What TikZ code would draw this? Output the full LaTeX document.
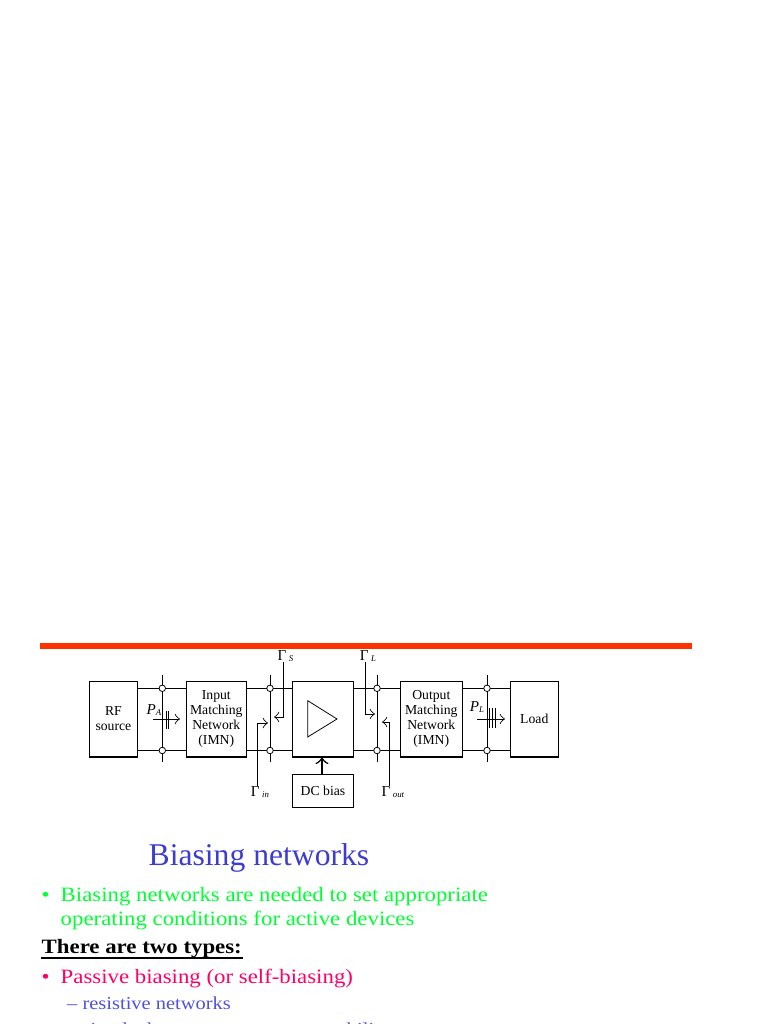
\documentclass[tikz,border=0pt]{standalone}
\usepackage{fontspec}
\setmainfont{Liberation Serif}
\newfontfamily\widefont[FakeStretch=1.12]{Liberation Serif}
\usetikzlibrary{arrows,positioning}
\definecolor{barred}{RGB}{255,51,0}
\definecolor{titleblue}{RGB}{60,60,210}
\definecolor{bulletgreen}{RGB}{0,255,51}
\definecolor{passivered}{RGB}{255,0,102}
\definecolor{subblue}{RGB}{80,80,220}
\tikzset{
  block/.style={draw,line width=0.3pt,fill=white,inner sep=0pt,align=center,font=\fontsize{3.9pt}{4.3pt}\selectfont},
  port/.style={draw,circle,fill=white,line width=0.22pt,minimum size=0.065cm,inner sep=0pt},
  wire/.style={line width=0.22pt},
  flow/.style={line width=0.22pt,->,>=to},
  lab/.style={inner sep=0pt,font=\fontsize{4.3pt}{4.6pt}\selectfont},
  slide/.style={anchor=base west,inner sep=0pt,font=\widefont\fontsize{5.8pt}{6pt}\selectfont}
}
\newcommand{\sublab}[2]{\textit{#1}\raisebox{-0.35pt}{\fontsize{2.5pt}{3pt}\selectfont\textit{#2}}}
\newcommand{\Gam}[1]{Γ\,\raisebox{-0.35pt}{\fontsize{2.5pt}{3pt}\selectfont\textit{#1}}}
\begin{document}
\begin{tikzpicture}
  \path[use as bounding box] (0,0) rectangle (7.68,10.24);
  \clip (0,0) rectangle (7.68,10.24);
  \fill[barred] (0.40,3.745) rectangle (6.92,3.81); %Red bar

  %Blocks
  \node[block,minimum width=0.485cm,minimum height=0.755cm] (rf) at (1.134,3.05) {RF\\source};
  \node[block,minimum width=0.595cm,minimum height=0.755cm] (imn) at (2.163,3.05) {Input\\Matching\\Network\\(IMN)};
  \node[block,minimum width=0.605cm,minimum height=0.755cm] (amp) at (3.23,3.05) {};
  \node[block,minimum width=0.615cm,minimum height=0.755cm] (omn) at (4.313,3.05) {Output\\Matching\\Network\\(IMN)};
  \node[block,minimum width=0.475cm,minimum height=0.755cm] (load) at (5.343,3.05) {Load};
  \node[block,minimum width=0.605cm,minimum height=0.33cm] (dc) at (3.23,2.33) {DC bias};

  %Shadow edge of the blocks
  \foreach \a in {rf,imn,amp,omn,load}{
    \draw[line width=0.4pt] (\a.south west) -- (\a.south east);
  }

  %Amplifier triangle
  \draw[line width=0.22pt] (3.077,3.233) -- (3.37,3.05) -- (3.077,2.87) -- cycle;

  %Wires between blocks
  \foreach \a/\b in {rf/imn,imn/amp,amp/omn,omn/load}{
    \draw[wire] (\a.east |- 0,3.357) -- (\b.west |- 0,3.357);
    \draw[wire] (\a.east |- 0,2.735) -- (\b.west |- 0,2.735);
  }

  %Reference planes
  \foreach \name/\x in {a/1.623,b/2.70,c/3.77,d/4.87}{
    \draw[wire] (\x,3.49) -- (\x,2.62);
    \node[port] (top\name) at (\x,3.357) {};
    \node[port] (bot\name) at (\x,2.735) {};
  }

  %Power arrows
  \coordinate (pas) at (1.53,3.05);
  \coordinate (pae) at (1.80,3.05);
  \draw[flow] (pas) -- (pae);
  \draw[wire] (1.66,3.13) -- (1.66,2.95);
  \draw[wire] (1.685,3.13) -- (1.685,2.95);
  \node[lab] (pa) at (1.54,3.14) {\sublab{P}{A}};
  \coordinate (pls) at (4.77,3.05);
  \coordinate (ple) at (5.05,3.05);
  \draw[flow] (pls) -- (ple);
  \draw[wire] (4.89,3.16) -- (4.89,2.96);
  \draw[wire] (4.92,3.16) -- (4.92,2.96);
  \draw[wire] (4.95,3.16) -- (4.95,2.96);
  \node[lab] (pl) at (4.77,3.17) {\sublab{P}{L}};

  %Reflection coefficients
  \node[lab] (gs) at (2.855,3.68) {\Gam{S}};
  \node[lab] (gin) at (2.60,2.32) {\Gam{in}};
  \node[lab] (gl) at (3.68,3.68) {\Gam{L}};
  \node[lab] (gout) at (3.93,2.32) {\Gam{out}};
  \coordinate (gsb) at (2.83,3.07);
  \coordinate (gse) at (2.74,3.07);
  \draw[flow] (gs.south -| gsb) -- (gsb) -- (gse);
  \coordinate (ginb) at (2.57,3.01);
  \coordinate (gine) at (2.68,3.01);
  \draw[flow] (gin.north -| ginb) -- (ginb) -- (gine);
  \coordinate (glb) at (3.65,3.10);
  \coordinate (gle) at (3.75,3.10);
  \draw[flow] (gl.south -| glb) -- (glb) -- (gle);
  \coordinate (goutb) at (3.89,3.02);
  \coordinate (goute) at (3.82,3.02);
  \draw[flow] (gout.north -| goutb) -- (goutb) -- (goute);

  %Bias feed
  \draw[line width=0.45pt,->,>=to] (dc.north -| 3.22,0) -- (amp.south -| 3.22,0);

  %Slide text
  \node[anchor=base west,inner sep=0pt,text=titleblue,font=\fontsize{9pt}{10pt}\selectfont] (title) at (1.48,1.58) {Biasing networks};
  \node[slide,text=bulletgreen] (b1) at (0.41,1.23) {•};
  \node[slide,text=bulletgreen] (b1a) at (0.60,1.23) {Biasing networks are needed to set appropriate};
  \node[slide,text=bulletgreen] (b1b) at (0.60,0.99) {operating conditions for active devices};
  \node[slide] (two) at (0.41,0.70) {\textbf{There are two types:}};
  \draw[line width=0.4pt] (two.base west |- 0,0.66) -- (two.base east |- 0,0.66);
  \node[slide,text=passivered] (b2) at (0.41,0.41) {•};
  \node[slide,text=passivered] (b2a) at (0.60,0.41) {Passive biasing (or self-biasing)};
  \node[slide,text=subblue,font=\widefont\fontsize{5.2pt}{5.5pt}\selectfont] (s1) at (0.665,0.14) {– resistive networks};
  \node[slide,text=subblue,font=\widefont\fontsize{5.2pt}{5.5pt}\selectfont] (s2) at (0.665,-0.12) {– simple, but poor temperature stability};
\end{tikzpicture}
\end{document}
